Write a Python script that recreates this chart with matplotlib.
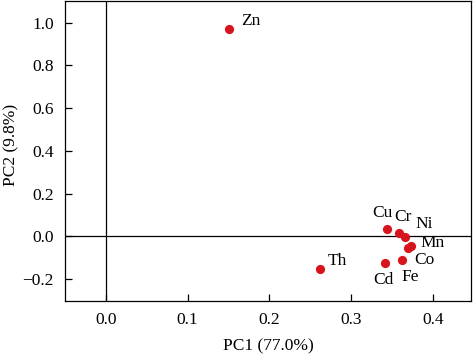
import matplotlib
matplotlib.use("Agg")
import matplotlib.pyplot as plt

elements = ["Zn", "Th", "Cu", "Cr", "Ni", "Mn", "Co", "Cd", "Fe"]
pc1 = [0.151, 0.262, 0.344, 0.359, 0.366, 0.374, 0.370, 0.342, 0.363]
pc2 = [0.972, -0.152, 0.034, 0.018, -0.001, -0.044, -0.053, -0.122, -0.110]
label_x = [0.177, 0.283, 0.338, 0.363, 0.390, 0.400, 0.390, 0.340, 0.372]
label_y = [1.009, -0.117, 0.108, 0.093, 0.057, -0.032, -0.110, -0.203, -0.190]
x_ticks = [0.0, 0.1, 0.2, 0.3, 0.4]
y_ticks = [-0.2, 0.0, 0.2, 0.4, 0.6, 0.8, 1.0]

plt.rcParams['font.family'] = ['Liberation Serif', 'DejaVu Serif']
plt.rcParams['font.size'] = 12

fig = plt.figure(figsize=(4.74, 3.57), dpi=100)
ax = fig.add_axes([0.137, 0.158, 0.857, 0.840])

ax.axhline(0, color='black', lw=0.9, zorder=1)
ax.axvline(0, color='black', lw=0.9, zorder=1)
ax.scatter(pc1, pc2, s=44, color='#d7141c', zorder=3, linewidths=0)
for name, lx, ly in zip(elements, label_x, label_y):
    ax.text(lx, ly, name, ha='center', va='center', fontsize=12.5)

ax.set_xlim(-0.05, 0.447)
ax.set_ylim(-0.3, 1.103)
ax.set_xticks(x_ticks)
ax.set_xticklabels([f"{v:.1f}" for v in x_ticks])
ax.set_yticks(y_ticks)
ax.set_yticklabels([f"{v:.1f}".replace('-', '\u2212') for v in y_ticks])
ax.tick_params(direction='in', length=5, width=0.9, pad=8, labelsize=12.5)
for s in ax.spines.values():
    s.set_linewidth(0.9)
ax.set_xlabel("PC1 (77.0%)", fontsize=12.5, labelpad=8)
ax.set_ylabel("PC2 (9.8%)", fontsize=12.5)
ax.yaxis.set_label_coords(-0.112, 0.52)

fig.savefig("out.png", dpi=100)
